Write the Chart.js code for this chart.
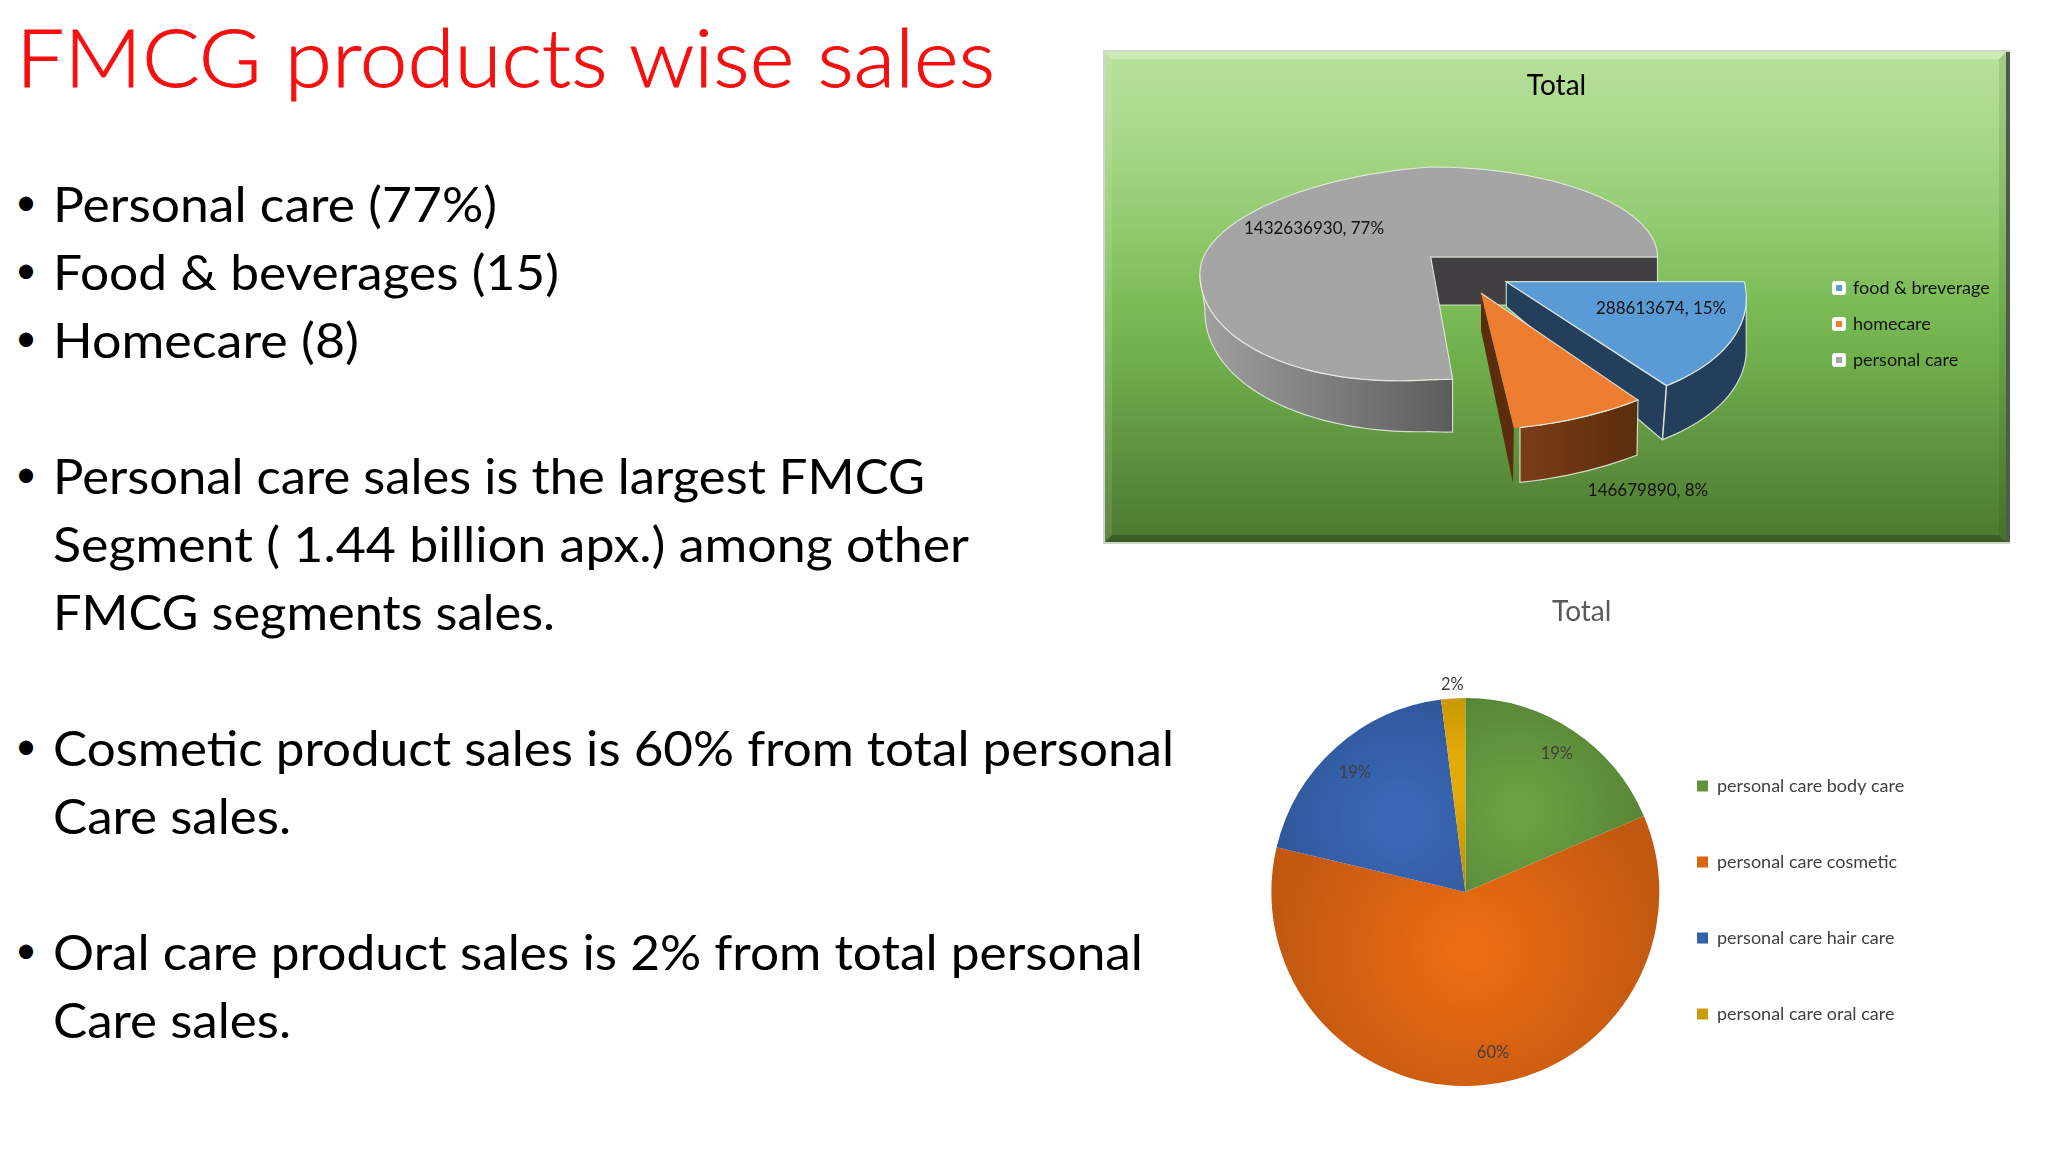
<!DOCTYPE html>
<html><head><meta charset="utf-8">
<script src="https://cdn.jsdelivr.net/npm/chart.js@4/dist/chart.umd.min.js"></script>
<style>
html,body{margin:0;padding:0;background:#fff;width:2048px;height:1152px;overflow:hidden}
canvas{position:absolute}
.t{position:absolute;white-space:pre;font-family:Lato,sans-serif;transform-origin:0 50%;color:#000}
</style></head><body>
<canvas id="c1" width="907" height="494" style="left:1103px;top:50px"></canvas>
<canvas id="c2" width="726" height="506" style="left:1240px;top:580px"></canvas>
<script>
// ---- slide text
const slideTitle = "FMCG products wise sales";
const bulletText = ["Personal care (77%)","Food & beverages (15)","Homecare (8)",
 "Personal care sales is the largest FMCG","Segment ( 1.44 billion apx.) among other","FMCG segments sales.",
 "Cosmetic product sales is 60% from total personal","Care sales.",
 "Oral care product sales is 2% from total personal","Care sales."];
const bulletRow = [0,1,2,4,5,6,8,9,11,12];
const bulletMark = [1,1,1,1,0,0,1,0,1,0];
const bulletWidth = [444,506,306,872,916,502,1121,238,1090,238];
// ---- chart 1 data
const segLabels = ["food & breverage","homecare","personal care"];
const segValues = [288613674,146679890,1432636930];
const segPct = [15,8,77];
const segColors = ["#5b9bd5","#ed7d31","#a5a5a5"];
// ---- chart 2 data
const careLabels = ["personal care body care","personal care cosmetic","personal care hair care","personal care oral care"];
const careValues = [18.6,60.1,19.3,2.0];
const careBright = ["#6c9f42","#ea6c13","#3a67b5","#e2ac08"];
const careDark = ["#548235","#c25810","#2f5597","#b98b00"];
const careKey = ["#619339","#d9650f","#3360aa","#cd9c04"];

// ---- slide text layout
function place(text,x,base,fs,css=''){
  const d=document.createElement('div');d.className='t';d.textContent=text;
  const L=fs*1.2;
  d.style.cssText+=`left:${x}px;top:${base-L/2-0.387*fs}px;font-size:${fs}px;line-height:${L}px;`+css;
  document.body.appendChild(d);return d;
}
function fit(el,w){el.style.transform=`scaleX(${w/el.getBoundingClientRect().width})`;}
fit(place(slideTitle,16,87,80,'color:#f50f0f;font-weight:300;-webkit-text-stroke:0.9px #f50f0f;'),979);
bulletText.forEach((t,i)=>{const base=221.5+bulletRow[i]*68;
  fit(place(t,53,base,47.5),bulletWidth[i]);
  if(bulletMark[i])place("\u2022",15,base-6,38);});

// ---- 3D pie geometry: page px; PX,PY = canvas origin
const PX=1103,PY=50;
const sliceGeom=[
 {x0:1506.3,y0:281.7,pieces:{all:[238,31,0,126]},
  wall:{from:6,to:55.6,s0:[0,54],s1:[-4,54],fill:['#243f5c','#243f5c']},label:[154.8,26.5]},
 {x0:1481,y0:293,pieces:{all:[272,4,-10.5,136.9]},openEnd:true,
  wall:{from:55.6,to:83.9,s0:[-1,55],s1:[0,55],fill:['#5c2d0d','#7a3d16']},label:[167,197.5]},
 {x0:1430.7,y0:257,pieces:{br:[226.8,-2.2,0,122.7],bl:[230.7,-2.2,-16,122.7],tl:[230.7,0,-16,90],tr:[226.8,0,0,90]},
  wall:{from:83.9,to:180,s0:[0,53],s1:[5,36],fill:['#5c5c5c','#a0a0a0']},label:[-116.7,-28.5]}
];
function pieceFor(g,u,v){
  if(g.pieces.all) return g.pieces.all;
  return v>=0?(u>=0?g.pieces.br:g.pieces.bl):(u>=0?g.pieces.tr:g.pieces.tl);
}
function P(g,deg){const a=deg*Math.PI/180,u=Math.cos(a),v=Math.sin(a),m=pieceFor(g,u,v);
  return [g.x0-PX+m[0]*u+m[1]*v,g.y0-PY+m[2]*u+m[3]*v];}
function poly(ctx,pts){ctx.beginPath();pts.forEach((p,i)=>i?ctx.lineTo(p[0],p[1]):ctx.moveTo(p[0],p[1]));}
const EDGE='rgba(230,237,224,.85)';
function drawWall(ctx,g){
  const w=g.wall,top=[],bot=[];
  for(let d=w.from;d<=w.to+.01;d+=1.5){const p=P(g,d),t=(d-w.from)/(w.to-w.from);
    top.push(p);bot.push([p[0]+w.s0[0]+(w.s1[0]-w.s0[0])*t,p[1]+w.s0[1]+(w.s1[1]-w.s0[1])*t]);}
  const pts=top.concat(bot.slice().reverse());
  const xs=pts.map(p=>p[0]);const gr=ctx.createLinearGradient(Math.max(...xs),0,Math.min(...xs),0);
  gr.addColorStop(0,w.fill[0]);gr.addColorStop(1,w.fill[1]);
  poly(ctx,pts);ctx.closePath();ctx.fillStyle=gr;ctx.fill();
  ctx.strokeStyle=EDGE;ctx.lineWidth=1.2;ctx.stroke();
}
function drawTop(ctx,el,g){
  const R=el.outerRadius;
  for(const key of Object.keys(g.pieces)){
    const m=g.pieces[key];ctx.save();
    ctx.translate(g.x0-PX,g.y0-PY);ctx.transform(m[0]/R,m[2]/R,m[1]/R,m[3]/R,0,0);
    ctx.translate(-el.x,-el.y);
    if(key!=='all'){const o=1.5,big=R*1.2;
      const x=key[1]==='r'?el.x-o:el.x-big,y=key[0]==='b'?el.y-o:el.y-big;
      ctx.beginPath();ctx.rect(x,y,big+o,big+o);ctx.clip();}
    el.draw(ctx);ctx.restore();
  }
  const s=el.startAngle*180/Math.PI,e=el.endAngle*180/Math.PI,arc=[];
  for(let d=s;d<=e+.01;d+=1.5)arc.push(P(g,d));
  const apex=[g.x0-PX,g.y0-PY];
  poly(ctx,[apex].concat(arc));if(!g.openEnd)ctx.closePath();ctx.strokeStyle=EDGE;ctx.lineWidth=1.2;ctx.stroke();
}
const panelPaint={id:'panelPaint',beforeDraw(c){
  const x=c.ctx,W=c.width,H=c.height;
  x.save();
  const g=x.createLinearGradient(0,0,0,H);
  [[0,'#b8e09b'],[.15,'#acd98d'],[.35,'#92cb70'],[.5,'#7dbd58'],[.62,'#70b04c'],[.8,'#5f9440'],[1,'#4c7830']].forEach(s=>g.addColorStop(s[0],s[1]));
  x.fillStyle='#cfd6ca';x.fillRect(0,0,W,H);
  const l=2,t=2,r=W-4,d=H-2,b=7;
  x.fillStyle=g;x.fillRect(l,t,r-l,d-t);
  const band=(pts,col)=>{poly(x,pts);x.closePath();x.fillStyle=col;x.fill();};
  band([[l,t],[r,t],[r-b,t+b],[l+b,t+b]],'rgba(235,250,220,.45)');
  band([[l,t],[l+b,t+b],[l+b,d-b],[l,d]],'rgba(255,255,255,.10)');
  band([[r,t],[r-b,t+b],[r-b,d-b],[r,d]],'rgba(30,50,20,.12)');
  band([[l,d],[l+b,d-b],[r-b,d-b],[r,d]],'rgba(30,50,20,.38)');
  x.fillStyle='#4d5c46';x.fillRect(r,t,W-r,d-t);
  x.restore();
}};
const pie3d={id:'pie3d',beforeDatasetsDraw(c){
  const ctx=c.ctx,els=c.getDatasetMeta(0).data;
  const grey=sliceGeom[2];
  drawWall(ctx,grey);
  const a=[grey.x0-PX,grey.y0-PY],e=P(grey,0);
  poly(ctx,[a,e,[e[0],a[1]+48],[a[0],a[1]+48]]);ctx.closePath();
  ctx.fillStyle='#413f42';ctx.fill();ctx.strokeStyle=EDGE;ctx.lineWidth=1.2;ctx.stroke();
  drawTop(ctx,els[2],grey);
  const f=sliceGeom[0],fa=[f.x0-PX,f.y0-PY],ft=P(f,els[0].endAngle*180/Math.PI);
  poly(ctx,[fa,ft,[ft[0]-4,ft[1]+54],[fa[0],fa[1]+25]]);ctx.closePath();
  ctx.fillStyle='#243f5c';ctx.fill();ctx.strokeStyle=EDGE;ctx.lineWidth=1.2;ctx.stroke();
  drawWall(ctx,f);drawTop(ctx,els[0],f);
  const h=sliceGeom[1],ha=[h.x0-PX,h.y0-PY],ht=P(h,els[1].endAngle*180/Math.PI);
  poly(ctx,[ha,ht,[ht[0]-1,ht[1]+55],[ha[0],ha[1]+37]]);ctx.closePath();ctx.fillStyle='#5c2d0d';ctx.fill();
  drawWall(ctx,h);drawTop(ctx,els[1],h);
  return false;
},afterDraw(c){
  const ctx=c.ctx;ctx.save();ctx.font='17px Lato';ctx.fillStyle='#111';ctx.textAlign='center';ctx.textBaseline='middle';
  segValues.forEach((v,i)=>{const g=sliceGeom[i];
    ctx.fillText(v+", "+segPct[i]+"%",g.x0-PX+g.label[0],g.y0-PY+g.label[1]);});
  ctx.restore();
},afterLayout(c){
  const L=c.legend;L.left=1834-PX-18;L.right=L.left+200;L.top=211;L.bottom=L.top+130;
}};
new Chart(document.getElementById('c1'),{type:'pie',plugins:[panelPaint,pie3d],
 data:{labels:segLabels,datasets:[{data:segValues,backgroundColor:segColors,borderWidth:0}]},
 options:{responsive:false,animation:false,devicePixelRatio:1,rotation:90,
  layout:{padding:0},
  plugins:{tooltip:{enabled:false},
   title:{display:true,text:'Total',color:'#000',font:{family:'Lato',size:28,weight:'normal'},padding:{top:19.5,bottom:10}},
   legend:{position:'right',align:'start',labels:{boxWidth:10,boxHeight:10,padding:18,color:'#111',font:{family:'Lato',size:18},
    generateLabels:c=>segLabels.map((t,i)=>({text:t,fillStyle:segColors[i],strokeStyle:'#fff',lineWidth:4,index:i,borderRadius:1,fontColor:'#111'}))}}}}});

// ---- chart 2
const labelRadial=[.855,.83,.86,1.07];
const labelNudge=[[0,0],[14,0],[1,5],[0,0]];
const glow=[[.5,.72],[.3,1.0],[.5,.72],[.6,.6]];
const careTotal=careValues.reduce((a,b)=>a+b,0);
function midAngle(i){let s=0;for(let k=0;k<i;k++)s+=careValues[k];return -Math.PI/2+2*Math.PI*(s+careValues[i]/2)/careTotal;}
const pieLabels={id:'pieLabels',afterDatasetsDraw(c){
  const ctx=c.ctx,els=c.getDatasetMeta(0).data;ctx.save();ctx.font='16.5px Lato';ctx.fillStyle='#404040';ctx.textAlign='center';ctx.textBaseline='middle';
  els.forEach((el,i)=>{const a=(el.startAngle+el.endAngle)/2,r=el.outerRadius*labelRadial[i];
    ctx.fillText(Math.round(careValues[i]/careTotal*100)+'%',el.x+Math.cos(a)*r+labelNudge[i][0],el.y+Math.sin(a)*r+labelNudge[i][1]);});
  ctx.restore();
},afterLayout(c){const L=c.legend;const h=L.bottom-L.top;L.top=139;L.bottom=L.top+h;L.left=399;L.right=L.left+320;
  const T=c.titleBlock;T.left=0;T.right=683.4;}};
new Chart(document.getElementById('c2'),{type:'pie',plugins:[pieLabels],
 data:{labels:careLabels,datasets:[{data:careValues,borderWidth:0,
  backgroundColor:ctx=>{const a=ctx.chart.chartArea,i=ctx.dataIndex;if(!a)return careDark[i];
    const cx=(a.left+a.right)/2,cy=(a.top+a.bottom)/2,R=Math.min(a.right-a.left,a.bottom-a.top)/2,m=midAngle(i);
    const gx=cx+Math.cos(m)*R*glow[i][0],gy=cy+Math.sin(m)*R*glow[i][0];
    const g=ctx.chart.ctx.createRadialGradient(gx,gy,R*.1,gx,gy,R*glow[i][1]);
    g.addColorStop(0,careBright[i]);g.addColorStop(1,careDark[i]);return g;}}]},
 options:{responsive:false,animation:false,devicePixelRatio:1,layout:{padding:0},
  plugins:{tooltip:{enabled:false},
   title:{display:true,text:'Total',color:'#595959',font:{family:'Lato',size:28,weight:'normal'},padding:{top:15,bottom:69.4}},
   legend:{position:'right',align:'start',labels:{boxWidth:11,boxHeight:11,padding:58,color:'#404040',font:{family:'Lato',size:18},
    generateLabels:c=>careLabels.map((t,i)=>({text:t,fillStyle:careKey[i],strokeStyle:careKey[i],lineWidth:0,index:i,fontColor:'#404040'}))}}}}});
</script></body></html>
